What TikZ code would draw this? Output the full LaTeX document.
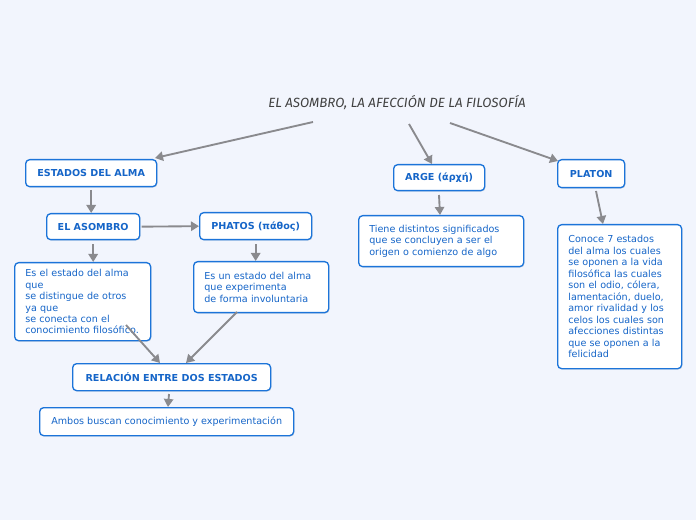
\documentclass[tikz,border=0pt]{standalone}
\usepackage{fontspec}
\setmainfont{DejaVu Sans}
\newfontfamily\titlefont{Fira Sans}
\usetikzlibrary{arrows.meta,shadows}
\definecolor{bg}{HTML}{F2F5FD}
\definecolor{bd}{HTML}{1C74D9}
\definecolor{tx}{HTML}{1565C8}
\definecolor{ln}{HTML}{8A8A8E}
\begin{document}
\begin{tikzpicture}[x=0.75pt,y=-0.75pt,
 box/.style={draw=bd,line width=1pt,rounded corners=3pt,fill=white,text=tx,
   drop shadow={shadow xshift=0.6pt,shadow yshift=-0.6pt,opacity=0.25},anchor=north west,inner sep=0pt},
 hd/.style={box,font=\bfseries\fontsize{7.2}{9}\selectfont,align=center},
 bd/.style={box,font=\fontsize{7.2}{8.6}\selectfont,align=left,text width=#1,inner xsep=8pt,inner ysep=5pt},
 con/.style={draw=ln,line width=1.4pt,-{Triangle[length=6pt,width=7pt]}}]
\fill[bg] (0,0) rectangle (696,520);
\node[anchor=center,text=black!75,font=\titlefont\itshape\fontsize{10}{12}\selectfont] (t) at (397,103) {EL ASOMBRO, LA AFECCIÓN DE LA FILOSOFÍA};
\coordinate (t1) at (313,122); \coordinate (t2) at (409,124); \coordinate (t3) at (450,123);
\node[hd,minimum width=131*0.75pt,minimum height=27*0.75pt] (ea) at (25,159) {ESTADOS DEL ALMA};
\node[hd,minimum width=93*0.75pt,minimum height=26*0.75pt] (as) at (46,213) {EL ASOMBRO};
\node[hd,minimum width=112*0.75pt,minimum height=27*0.75pt] (ph) at (199,212) {PHATOS (πάθος)};
\node[bd=136*0.75pt-16pt,minimum height=63*0.75pt] (b1) at (14,262) {Es el estado del alma que\\se distingue de otros ya que\\se conecta con el\\conocimiento filosófico.};
\node[bd=135*0.75pt-16pt,minimum height=51*0.75pt] (b2) at (193,261) {Es un estado del alma\\que experimenta\\de forma involuntaria};
\node[hd,minimum width=198*0.75pt,minimum height=27*0.75pt] (re) at (72,363) {RELACIÓN ENTRE DOS ESTADOS};
\node[box,font=\fontsize{7.2}{9}\selectfont,minimum width=254*0.75pt,minimum height=28*0.75pt] (am) at (39,407) {Ambos buscan conocimiento y experimentación};
\node[hd,minimum width=91*0.75pt,minimum height=26*0.75pt] (ar) at (393,164) {ARGE (άρχή)};
\node[bd=165*0.75pt-16pt,minimum height=51*0.75pt] (ti) at (358,215) {Tiene distintos significados\\que se concluyen a ser el\\origen o comienzo de algo};
\node[hd,minimum width=67*0.75pt,minimum height=28*0.75pt] (pl) at (557,159) {PLATON};
\node[bd=124*0.75pt-16pt,minimum height=144*0.75pt] (co) at (557,224) {Conoce 7 estados\\del alma los cuales\\se oponen a la vida\\filosófica las cuales\\son el odio, cólera,\\lamentación, duelo,\\amor rivalidad y los\\celos los cuales son\\afecciones distintas\\que se oponen a la\\felicidad};
\draw[con] (t1) -- (155,158);
\draw[con] (t2) -- (ar.north -| 432,0);
\draw[con] (t3) -- (558,161);
\draw[con] ([yshift=-2pt]ea.south) -- (ea.south |- as.north);
\draw[con] ([xshift=1pt]as.east) -- (ph.west);
\draw[con] ([yshift=-3pt]as.south) -- (as.south |- b1.north);
\draw[con] ([yshift=-3pt]ph.south) -- (ph.south |- b2.north);
\draw[con] (126,325) -- (160,363);
\draw[con] (237,312) -- (186,363);
\draw[con] (169,394) -- (168,407);
\draw[con] (439,195) -- (440,215);
\draw[con] (596,191) -- (603,224);
\end{tikzpicture}
\end{document}
